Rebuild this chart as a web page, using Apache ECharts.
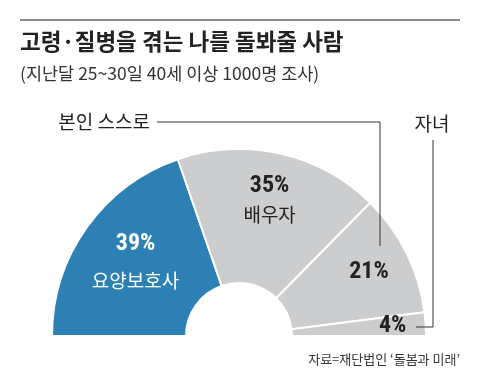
<!DOCTYPE html>
<html>
<head>
<meta charset="utf-8">
<script src="https://cdn.jsdelivr.net/npm/echarts@6/dist/echarts.min.js"></script>
<style>
html,body{margin:0;padding:0;background:#fff;}
#chart{width:480px;height:390px;}
</style>
</head>
<body>
<div id="chart"></div>
<script>
const categories = ['요양보호사', '배우자', '본인 스스로', '자녀'];
const values = [39, 35, 21, 4];
const percentLabels = ['39%', '35%', '21%', '4%'];
const titleText = '고령·질병을 겪는 나를 돌봐줄 사람';
const subtitleText = '(지난달 25~30일 40세 이상 1000명 조사)';
const sourceText = '자료=재단법인 ‘돌봄과 미래’';

const FONT = "'Noto Sans CJK KR', 'Noto Sans', sans-serif";
const NUMFONT = "'Roboto Condensed', 'Noto Sans CJK KR', sans-serif";
const sliceColors = ['#2c80b4', '#cccdcf', '#cccdcf', '#cccdcf'];
const nameInside = [true, true, false, false];
const labelRadius = [127, 139, 145, 154];
const CX = 239, CY = 336, R0 = 53, R1 = 187;

const total = values.reduce((a, b) => a + b, 0);
function midAngle(i) {
  let before = 0;
  for (let k = 0; k < i; k++) before += values[k];
  const mid = before + values[i] / 2;
  return Math.PI - (mid / total) * Math.PI;
}

const chart = echarts.init(document.getElementById('chart'), null, {renderer: 'canvas'});

const option = {
  backgroundColor: '#fff',
  animation: false,
  title: [{
    text: titleText,
    subtext: subtitleText,
    left: 20, top: 29, padding: 0, itemGap: 9,
    textStyle: {fontFamily: FONT, fontSize: 22.5, fontWeight: 'bold', color: '#222', lineHeight: 25},
    subtextStyle: {fontFamily: FONT, fontSize: 17.5, color: '#333', lineHeight: 20}
  }, {
    text: sourceText,
    right: 20, top: 351, padding: 0,
    textStyle: {fontFamily: FONT, fontSize: 13, fontWeight: 'normal', color: '#333', lineHeight: 16}
  }],
  graphic: [{
    type: 'line',
    shape: {x1: 20, y1: 20, x2: 460, y2: 20},
    style: {stroke: '#8c8c8c', lineWidth: 2},
    silent: true
  }],
  series: [{
    type: 'pie',
    center: [CX, CY],
    radius: [R0, R1],
    startAngle: 180,
    endAngle: 0,
    clockwise: true,
    avoidLabelOverlap: false,
    emphasis: {disabled: true},
    silent: true,
    itemStyle: {borderColor: '#fff', borderWidth: 2},
    data: values.map((v, i) => ({
      value: v, name: categories[i],
      itemStyle: {color: sliceColors[i]}
    })),
    label: {
      show: true,
      position: 'inside',
      formatter: function (p) {
        const i = p.dataIndex;
        if (i === 0) return '{pw|' + percentLabels[i] + '}\n{nw|' + categories[i] + '}';
        if (nameInside[i]) return '{p|' + percentLabels[i] + '}\n{n|' + categories[i] + '}';
        return '{p|' + percentLabels[i] + '}';
      },
      rich: {
        pw: {fontFamily: NUMFONT, fontSize: 24, fontWeight: 'bold', color: '#fff', lineHeight: 36, align: 'center'},
        nw: {fontFamily: FONT, fontSize: 19, color: '#fff', lineHeight: 36, align: 'center'},
        p: {fontFamily: NUMFONT, fontSize: 24, fontWeight: 'bold', color: '#222', lineHeight: 28, align: 'center'},
        n: {fontFamily: FONT, fontSize: 19, color: '#222', lineHeight: 28, align: 'center'}
      }
    },
    labelLine: {show: false},
    labelLayout: function (params) {
      const i = params.dataIndex;
      const a = midAngle(i);
      return {
        x: CX + labelRadius[i] * Math.cos(a),
        y: CY - labelRadius[i] * Math.sin(a),
        align: 'center',
        verticalAlign: 'middle'
      };
    }
  }, {
    type: 'pie',
    center: [CX, CY],
    radius: [R0, R1],
    startAngle: 180,
    endAngle: 0,
    clockwise: true,
    avoidLabelOverlap: false,
    emphasis: {disabled: true},
    silent: true,
    z: 3,
    itemStyle: {color: 'rgba(0,0,0,0)', borderWidth: 0},
    data: values.map((v, i) => ({
      value: v, name: categories[i],
      label: {show: !nameInside[i]},
      labelLine: {show: !nameInside[i]}
    })),
    label: {
      position: 'outside',
      formatter: '{b}',
      fontFamily: FONT, fontSize: 19, color: '#222'
    },
    labelLine: {
      show: true,
      lineStyle: {color: '#333', width: 1}
    },
    labelLayout: function (params) {
      const i = params.dataIndex;
      if (i === 2) {
        return {
          x: 150, y: 122, align: 'right', verticalAlign: 'middle',
          labelLinePoints: [[380, 246], [380, 122], [157, 122]]
        };
      }
      if (i === 3) {
        return {
          x: 432, y: 124, align: 'center', verticalAlign: 'middle',
          labelLinePoints: [[416, 327], [433, 327], [433, 140]]
        };
      }
      return {};
    }
  }]
};
chart.setOption(option);
</script>
</body>
</html>
